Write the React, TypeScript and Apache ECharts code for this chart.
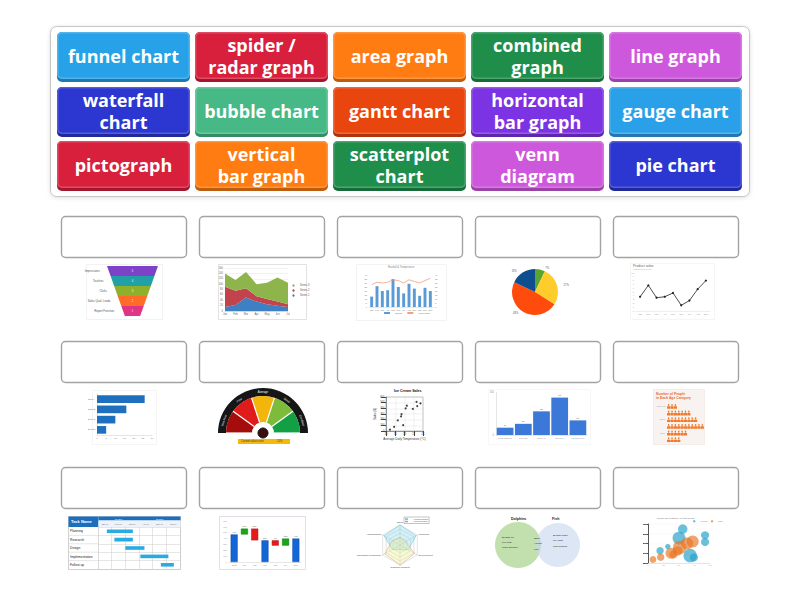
import React, { useEffect, useRef } from "react";
import * as echarts from "echarts";

// ---------------- Board (buttons) ----------------
const buttonTexts: string[] = [
  "funnel chart", "spider /\nradar graph", "area graph", "combined\ngraph", "line graph",
  "waterfall\nchart", "bubble chart", "gantt chart", "horizontal\nbar graph", "gauge chart",
  "pictograph", "vertical\nbar graph", "scatterplot\nchart", "venn\ndiagram", "pie chart",
];
const buttonColors: string[] = [
  "#27a1e8", "#d81f3c", "#ff7c12", "#1f8e4a", "#cd58dc",
  "#2b37d0", "#46b986", "#e9450f", "#7c33e4", "#2aa0e8",
  "#d81f3c", "#ff7c12", "#1f8e4a", "#cd58dc", "#2b37d0",
];

// ---------------- Thumbnail data ----------------
const funnelNames = ["Impressions", "Touches", "Clicks", "Sales Qual. Leads", "Report Function"];
const funnelValues = [100, 80, 60, 40, 20];
const funnelColors = ["#7d42c8", "#21a0a8", "#8fb02b", "#ff6b29", "#df3584"];

const areaMonths = ["Jan", "Feb", "Mar", "Apr", "May", "Jun", "Jul"];
const areaSer1 = [15, 22, 50, 35, 25, 20, 15];
const areaSer2 = [75, 53, 35, 20, 20, 15, 10];
const areaSer3 = [50, 40, 60, 45, 60, 90, 80];

const comboMonths = ["Jan", "Feb", "Mar", "Apr", "May", "Jun", "Jul", "Aug", "Sep", "Oct", "Nov", "Dec"];
const comboBars = [13, 26, 20, 21, 35, 25, 17, 29, 23, 14, 24, 20];
const comboLine = [28, 31, 30, 31, 34, 33, 30, 34, 32, 30, 33, 36];

const pieNames = ["Green", "Yellow", "Red", "Blue"];
const pieValues = [7, 27, 48, 18];
const pieColors = ["#5ba52e", "#ffcd2b", "#ff4b0b", "#0e4e8e"];

const lineCats = ["Jan", "Feb", "Mar", "Apr", "May", "Jun", "Jul", "Aug", "Sep"];
const lineValues = [3.75, 6.75, 3.5, 3.75, 4.75, 1.5, 2.75, 5.75, 8];

const hbarCats = ["Item D", "Item C", "Item B", "Item A"];
const hbarValues = [5, 10, 16, 26];

const gaugeLabels = ["Very Poor", "Poor", "Average", "Good", "Excellent"];
const gaugeValue = 15;

const scatterPoints: number[][] = [
  [11.7, 23], [13.5, 74], [15.1, 189], [16.5, 257], [16.7, 297], [17.4, 103],
  [18.5, 400], [19.0, 446], [21.6, 389], [23.2, 514], [23.5, 440], [24.9, 486],
];

const vbarCats = ["Less than 18", "18 to 29", "30 to 49", "50 to 64", "65 and over"];
const vbarValues = [17, 26, 55, 87, 34];

const pictoCats = ["Under 18", "18-24", "25-34", "35-44", "45-54", "55+"];
const pictoValues = [2, 6, 8, 10, 5, 3];

const ganttTasks = ["Planning", "Research", "Design", "Implementation", "Follow up"];
const ganttStart = [0.65, 1.2, 2.0, 3.1, 4.6];
const ganttDuration = [1.9, 1.35, 1.4, 2.05, 0.95];
const ganttMonths = ["Jan 09", "Feb 09", "Mar 09", "Apr 09", "May 09", "Jun 09"];
const ganttQuarters = ["Q1 2009", "Q2 2009"];

const wfCats = ["Start", "Q1", "Q2", "Mid", "Q3", "Q4", "End"];
const wfValues = [470, 100, -200, 370, -90, 120, 400];
const wfIsTotal = [true, false, false, true, false, false, true];

const radarIndicators = ["Sales", "Administration", "Information Technology", "Customer Support", "Development", "Marketing"];
const radarBudget = [5, 4.6, 2.2, 1.2, 2.4, 4.6];
const radarSpending = [1.8, 2.2, 4.4, 5, 4.2, 1.6];

const vennCenters: number[][] = [[28, 50], [68, 50]];
const vennTitles = ["Dolphins", "Fish"];
const vennLeft = ["Breathe air", "Live birth", "Warm blooded"];
const vennMid = ["Swim", "Aquatic", "Fins"];
const vennRight = ["Breathe water", "Lay eggs", "Cold blooded"];

const bubbleFemale: number[][] = [
  [56, 87, 7], [50, 64, 9.5], [19.5, 31.5, 5.5], [32, 42, 4], [68, 19, 10], [74, 14, 6], [92, 71, 6], [92, 54, 6],
];
const bubbleMale: number[][] = [
  [8, 9, 5], [20.5, 15, 5.5], [37, 25, 8], [51, 40, 10], [63, 50, 9], [72, 55, 9], [48, 31, 7], [41, 22, 6],
];

// ---------------- helpers ----------------
const FF = "Liberation Sans";
function mix(hex: string, target: number, t: number) {
  const n = parseInt(hex.slice(1), 16);
  const r = (n >> 16) & 255, g = (n >> 8) & 255, b = n & 255;
  const f = (c: number) => Math.round(c + (target - c) * t);
  return `rgb(${f(r)},${f(g)},${f(b)})`;
}
const lab = (size: number, color = "#777", extra: any = {}) => ({ fontSize: size, color, fontFamily: FF, ...extra });

function buildOption(): any {
  const graphics: any[] = [];
  // panel
  graphics.push({
    type: "rect", z: 0,
    shape: { x: 50.5, y: 26.5, width: 699, height: 170, r: 6 },
    style: { fill: "#fff", stroke: "#c6c6c6", lineWidth: 1, shadowBlur: 4, shadowColor: "rgba(0,0,0,0.12)", shadowOffsetY: 1 },
  });
  const BX = [57, 195, 333, 471, 609];
  const BY = [32, 87, 141];
  buttonTexts.forEach((t, i) => {
    const c = buttonColors[i];
    const x = BX[i % 5], y = BY[Math.floor(i / 5)];
    graphics.push({ type: "rect", z: 1, shape: { x, y, width: 133, height: 50, r: 5 }, style: { fill: mix(c, 0, 0.25) } });
    graphics.push({ type: "rect", z: 1, shape: { x, y, width: 133, height: 47, r: 5 }, style: { fill: mix(c, 255, 0.2) } });
    graphics.push({ type: "rect", z: 1, shape: { x: x + 1.5, y: y + 1.5, width: 130, height: 44, r: 4 }, style: { fill: c } });
    graphics.push({
      type: "text", z: 2,
      style: {
        text: t, x: x + 66.5, y: y + 23.5, align: "center", verticalAlign: "middle",
        fill: "#fff", fontSize: 18, fontWeight: "bold", fontFamily: "Open Sans", lineHeight: 22,
      },
    });
  });
  // answer boxes
  const OX = [61, 199, 337, 475, 613];
  const OY = [216, 341, 467];
  OY.forEach((y) => OX.forEach((x) => {
    graphics.push({ type: "rect", z: 1, shape: { x: x + 0.5, y: y + 0.5, width: 125, height: 41, r: 4 }, style: { fill: "#fff", stroke: "#a3a3a3", lineWidth: 1.4 } });
  }));
  // thumbnail frames / backgrounds
  const frame = (x: number, y: number, w: number, h: number, stroke: string, fill = "#fff") =>
    graphics.push({ type: "rect", z: 0, shape: { x: x + 0.5, y: y + 0.5, width: w, height: h }, style: { fill, stroke, lineWidth: 0.7 } });
  frame(86, 264, 76, 55, "#ececec");
  frame(218, 264, 88, 55, "#d6d6d6");
  frame(356, 264, 90, 56, "#eeeeee");
  frame(630, 263, 84, 56, "#f0f0f0");
  frame(92, 390, 64, 54, "#f0f0f0");
  frame(653, 389, 51, 55, "#f0e6e0", "#f8f3f0");
  frame(488, 389, 102, 55, "#f3f3f3");
  frame(68, 516, 112, 53, "#bbbbbb");
  frame(219, 516, 86, 53, "#d9cfdc");
  // gantt header & task column lines
  graphics.push({ type: "rect", z: 0, shape: { x: 68.5, y: 516.5, width: 30, height: 10.5 }, style: { fill: "#1c6fbd" } });
  graphics.push({ type: "rect", z: 0, shape: { x: 98.5, y: 516.5, width: 82, height: 4 }, style: { fill: "#1c6fbd" } });
  graphics.push({ type: "rect", z: 0, shape: { x: 98.5, y: 520.5, width: 82, height: 6.5 }, style: { fill: "#eef3f9" } });
  graphics.push({ type: "text", z: 3, style: { text: "Task Name", x: 71, y: 521.8, verticalAlign: "middle", fill: "#fff", fontSize: 4, fontWeight: "bold", fontFamily: FF } });
  for (let k = 1; k < 5; k++) {
    const yy = 527 + (42 / 5) * k;
    graphics.push({ type: "line", z: 0, shape: { x1: 68.5, y1: yy, x2: 98, y2: yy }, style: { stroke: "#cccccc", lineWidth: 0.5 } });
  }
  // gauge caption bar
  graphics.push({ type: "rect", z: 0, shape: { x: 238, y: 439, width: 52, height: 5 }, style: { fill: "#f5b90c" } });
  graphics.push({ type: "text", z: 3, style: { text: "Current value score", x: 241, y: 441.6, verticalAlign: "middle", fill: "#333", fontSize: 2.6, fontFamily: FF } });
  graphics.push({ type: "text", z: 3, style: { text: "15%", x: 277, y: 441.6, verticalAlign: "middle", fill: "#333", fontSize: 2.6, fontFamily: FF } });
  // venn texts
  const vt = (text: string, x: number, y: number, size = 2.4, bold = false) =>
    graphics.push({ type: "text", z: 5, style: { text, x, y, verticalAlign: "middle", fill: "#222", fontSize: size, fontWeight: bold ? "bold" : "normal", fontFamily: FF } });
  vt(vennTitles[0], 511, 518.5, 3.6, true);
  vt(vennTitles[1], 552, 518.5, 3.6, true);
  vennLeft.forEach((t, i) => vt(t, 502, 537 + i * 5));
  vennMid.forEach((t, i) => vt(t, 534, 538 + i * 5.5));
  vennRight.forEach((t, i) => vt(t, 553, 535 + i * 5.5));

  // waterfall helper arrays
  const wfBase: number[] = [];
  const wfBars: any[] = [];
  let running = 0;
  wfValues.forEach((v, i) => {
    let base = 0, h = 0, color = "#1366d6", border = "#0d4ea8";
    if (wfIsTotal[i]) { base = 0; h = v; running = v; }
    else if (v >= 0) { base = running; h = v; running += v; color = "#17a717"; border = "#0b7a0b"; }
    else { running += v; base = running; h = -v; color = "#e61c1c"; border = "#b30f0f"; }
    wfBase.push(base);
    wfBars.push({ value: h, itemStyle: { color, borderColor: border, borderWidth: 0.5 }, label: { formatter: String(Math.abs(v)) } });
  });

  const grids = [
    { left: 225, top: 268, width: 63, height: 43 },   // 0 area
    { left: 369, top: 275, width: 64, height: 32 },   // 1 combined
    { left: 636, top: 273, width: 74, height: 38 },   // 2 line
    { left: 97, top: 394, width: 55, height: 41, show: true, borderColor: "#dde3ea", borderWidth: 0.5 }, // 3 hbar
    { left: 386, top: 397, width: 37, height: 34, show: true, borderColor: "#888", borderWidth: 0.5 },  // 4 scatter
    { left: 496, top: 392, width: 91, height: 43 },   // 5 vbar
    { left: 667, top: 403, width: 37, height: 40 },   // 6 picto
    { left: 98, top: 527, width: 82, height: 42 },    // 7 gantt
    { left: 229, top: 521, width: 72, height: 41 },   // 8 waterfall
    { left: 490, top: 520, width: 100, height: 50 },  // 9 venn
    { left: 648, top: 524, width: 62, height: 39 },   // 10 bubble
  ];
  const noTick = { show: false };
  const thinLine = (c = "#bbb") => ({ lineStyle: { color: c, width: 0.5 } });

  const xAxis: any[] = [
    { type: "category", gridIndex: 0, data: areaMonths, boundaryGap: false, axisLabel: lab(2.6, "#666", { margin: 2 }), axisTick: noTick, axisLine: thinLine() },
    { type: "category", gridIndex: 1, data: comboMonths, axisLabel: lab(2.2, "#777", { margin: 2, interval: 0 }), axisTick: noTick, axisLine: thinLine("#ccc") },
    { type: "category", gridIndex: 2, data: lineCats, axisLabel: lab(2.4, "#999", { margin: 2, interval: 0 }), axisTick: noTick, axisLine: thinLine("#ddd") },
    { type: "value", gridIndex: 3, min: 0, max: 30, interval: 5, axisLabel: lab(2.5, "#888", { margin: 2 }), splitLine: { show: false }, axisLine: { show: true, ...thinLine("#ccc") } },
    { type: "value", gridIndex: 4, min: 10, max: 26, interval: 4, axisLabel: lab(2.6, "#444", { margin: 1.5 }), splitLine: { lineStyle: { color: "#d8d8d8", width: 0.4 } }, axisLine: thinLine("#444"),
      name: "Average Daily Temperature (°C)", nameLocation: "middle", nameGap: 6.5, nameTextStyle: lab(3, "#333") },
    { type: "category", gridIndex: 5, data: vbarCats, axisLabel: lab(2.4, "#888", { margin: 2, interval: 0 }), axisTick: noTick, axisLine: thinLine("#ccc") },
    { type: "value", gridIndex: 6, min: 0, max: 10, show: false },
    { type: "value", gridIndex: 7, min: 0, max: 6, interval: 1, axisLabel: { show: false }, axisLine: { show: false }, axisTick: noTick, splitLine: { lineStyle: { color: "#cccccc", width: 0.5 } } },
    { type: "category", gridIndex: 7, position: "top", data: ganttMonths, z: 6, axisLabel: lab(2.2, "#666", { margin: 1.5 }), axisLine: { show: false }, axisTick: noTick },
    { type: "category", gridIndex: 7, position: "top", offset: 6.5, data: ganttQuarters, z: 6, axisLabel: lab(2, "#fff", { margin: 0.6 }), axisLine: { show: false }, axisTick: noTick },
    { type: "category", gridIndex: 8, data: wfCats, axisLabel: lab(2.3, "#8a8ab0", { margin: 2, interval: 0 }), axisTick: noTick, axisLine: thinLine("#ccc") },
    { type: "value", gridIndex: 9, min: 0, max: 100, show: false },
    { type: "value", gridIndex: 10, min: 0, max: 100, interval: 25, axisLabel: lab(2.2, "#aaa", { margin: 1.5 }), splitLine: { show: false }, axisLine: thinLine("#ccc"), axisTick: noTick },
  ];
  const yAxis: any[] = [
    { type: "value", gridIndex: 0, min: 0, max: 160, interval: 20, axisLabel: lab(2.6, "#666", { margin: 2 }), splitLine: { lineStyle: { color: "#e4e4e4", width: 0.5 } } },
    { type: "value", gridIndex: 1, min: 0, max: 40, interval: 5, axisLabel: lab(2.2, "#777", { margin: 2 }), splitLine: { show: false } },
    { type: "value", gridIndex: 1, min: 0, max: 40, interval: 5, position: "right", axisLabel: lab(2.2, "#777", { margin: 2 }), splitLine: { show: false } },
    { type: "value", gridIndex: 2, min: 0, max: 10, interval: 1, axisLabel: lab(2.4, "#aaa", { margin: 2 }), splitLine: { show: false }, axisLine: { show: false } },
    { type: "category", gridIndex: 3, data: hbarCats, axisLabel: lab(2.5, "#666", { margin: 2 }), axisTick: noTick, axisLine: thinLine("#ccc") },
    { type: "value", gridIndex: 4, min: 0, max: 600, interval: 100, axisLabel: lab(2.6, "#444", { margin: 1.5 }), splitLine: { lineStyle: { color: "#d8d8d8", width: 0.4 } }, axisLine: { show: true, ...thinLine("#444") },
      name: "Sales ($)", nameLocation: "middle", nameGap: 9, nameTextStyle: lab(3, "#333") },
    { type: "value", gridIndex: 5, min: 0, max: 100, interval: 100, axisLabel: lab(2.6, "#999", { margin: 2 }), splitLine: { show: false }, axisLine: { show: true, ...thinLine("#ccc") } },
    { type: "category", gridIndex: 6, data: pictoCats, inverse: true, axisLabel: lab(2.2, "#999", { margin: 1.5 }), axisTick: noTick, axisLine: { show: false } },
    { type: "category", gridIndex: 7, data: ganttTasks, inverse: true, axisLabel: lab(3.3, "#222", { margin: 28, align: "left" }), axisTick: noTick, axisLine: thinLine("#cccccc"), splitLine: { show: true, lineStyle: { color: "#cccccc", width: 0.5 } } },
    { type: "value", gridIndex: 8, min: 0, max: 700, interval: 100, axisLabel: lab(2.3, "#999", { margin: 2 }), splitLine: { show: false } },
    { type: "value", gridIndex: 9, min: 0, max: 100, show: false },
    { type: "value", gridIndex: 10, min: 0, max: 100, interval: 25, axisLabel: lab(2.2, "#aaa", { margin: 1.5 }), splitLine: { lineStyle: { color: "#eeeeee", width: 0.4 } } },
  ];

  const titles = [
    { text: "Rainfall & Temperature", left: 388, top: 266, padding: 0, textStyle: lab(2.6, "#888", { fontWeight: "normal" }) },
    { text: "Product sales", subtext: "Units sold per month", left: 633, top: 264, padding: 0, itemGap: 1, textStyle: lab(3.4, "#666", { fontWeight: "normal" }), subtextStyle: lab(2, "#aaa") },
    { text: "Ice Cream Sales", left: 394, top: 389, padding: 0, textStyle: lab(3.6, "#111", { fontWeight: "bold" }) },
    { text: "Number of People\nin Each Age Category", left: 656, top: 392, padding: 0, textStyle: lab(3.4, "#e8692a", { fontWeight: "bold", lineHeight: 4 }) },
    { text: "Income and Health by Age and Gender", left: 657, top: 517, padding: 0, textStyle: lab(2.2, "#666", { fontWeight: "normal" }) },
  ];
  const legends = [
    { data: ["Series 3", "Series 2", "Series 1"], orient: "vertical", left: 292, top: 284, padding: 0, itemWidth: 3, itemHeight: 3, itemGap: 2, textStyle: lab(2.6, "#555") },
    { data: ["Rainfall", "Temperature"], left: 384, top: 312, padding: 0, itemWidth: 6, itemHeight: 2, itemGap: 4, textStyle: lab(2.2, "#777") },
    { data: ["Allocated Budget", "Actual Spending"], orient: "vertical", left: 404, top: 517, padding: 1, borderColor: "#888", borderWidth: 0.5, itemWidth: 3, itemHeight: 1.5, itemGap: 0.5, textStyle: lab(2, "#555") },
    { data: ["Female", "Male"], left: 693, top: 520, padding: 0, icon: "circle", itemWidth: 2.5, itemHeight: 2.5, itemGap: 3, textStyle: lab(2.2, "#777") },
  ];

  const series: any[] = [
    // funnel
    {
      type: "funnel", name: "funnel", left: 107, top: 266, width: 51, height: 50, min: 0, max: 100, minSize: "30%", maxSize: "100%", sort: "descending", gap: 0,
      label: { show: true, position: "inside", formatter: (p: any) => String(5 - p.dataIndex), ...lab(2.6, "#fff") },
      itemStyle: { borderWidth: 0 },
      data: funnelNames.map((n, i) => ({ name: n, value: funnelValues[i], itemStyle: { color: funnelColors[i] } })),
    },
    {
      type: "funnel", name: "funnelLabels", left: 107, top: 266, width: 51, height: 50, min: 0, max: 100, minSize: "30%", maxSize: "100%", sort: "descending", gap: 0, z: 1,
      label: { show: true, position: "left", ...lab(2.8, "#555") }, labelLine: { show: false, length: 4 },
      itemStyle: { color: "rgba(0,0,0,0)", borderWidth: 0 },
      data: funnelNames.map((n, i) => ({ name: n, value: funnelValues[i] })),
    },
    // area
    { type: "line", name: "Series 1", xAxisIndex: 0, yAxisIndex: 0, stack: "area", data: areaSer1, symbol: "none", lineStyle: { width: 0 }, areaStyle: { color: "#3f7fc4", opacity: 1 }, itemStyle: { color: "#3f7fc4" } },
    { type: "line", name: "Series 2", xAxisIndex: 0, yAxisIndex: 0, stack: "area", data: areaSer2, symbol: "none", lineStyle: { width: 0 }, areaStyle: { color: "#c2434b", opacity: 1 }, itemStyle: { color: "#c2434b" } },
    { type: "line", name: "Series 3", xAxisIndex: 0, yAxisIndex: 0, stack: "area", data: areaSer3, symbol: "none", lineStyle: { width: 0 }, areaStyle: { color: "#8db54c", opacity: 1 }, itemStyle: { color: "#8db54c" } },
    // combined
    { type: "bar", name: "Rainfall", xAxisIndex: 1, yAxisIndex: 1, data: comboBars, barWidth: "55%", itemStyle: { color: "#5b9bd5" } },
    { type: "line", name: "Temperature", xAxisIndex: 1, yAxisIndex: 2, data: comboLine, symbol: "none", lineStyle: { color: "#f2a07a", width: 0.8 }, itemStyle: { color: "#f2a07a" } },
    // pie
    {
      type: "pie", name: "pie", center: [535, 292], radius: 23, startAngle: 90, clockwise: true,
      label: { show: true, position: "outside", formatter: "{c}%", ...lab(2.6, "#555") }, labelLine: { show: false, length: 1.5, length2: 0 },
      data: pieNames.map((n, i) => ({ name: n, value: pieValues[i], itemStyle: { color: pieColors[i] } })),
    },
    // line
    { type: "line", name: "sales", xAxisIndex: 2, yAxisIndex: 3, data: lineValues, symbol: "circle", symbolSize: 2.2, lineStyle: { color: "#222", width: 0.8 }, itemStyle: { color: "#222" } },
    // horizontal bar
    { type: "bar", name: "hbar", xAxisIndex: 3, yAxisIndex: 4, data: hbarValues, barWidth: "75%", itemStyle: { color: "#1f6fbf" } },
    // gauge (black ring with labels)
    {
      type: "gauge", name: "gaugeRing", center: [263, 433], radius: 45, startAngle: 180, endAngle: 0, min: 0, max: 10, splitNumber: 10,
      axisLine: { lineStyle: { width: 8, color: [[1, "#161616"]] } },
      axisTick: { show: false }, splitLine: { show: false, length: 0, distance: 0 },
      axisLabel: { show: true, distance: 4, rotate: "tangential", color: "#fff", fontSize: 2.8, fontFamily: FF,
        formatter: (v: number) => { const k = Math.round(v); return k % 2 === 1 ? gaugeLabels[(k - 1) / 2] : ""; } },
      pointer: { show: false }, anchor: { show: false }, title: { show: false }, detail: { show: false }, data: [{ value: 0 }],
    },
    {
      type: "gauge", name: "gaugeBands", center: [263, 433], radius: 37, startAngle: 180, endAngle: 0, min: 0, max: 100, splitNumber: 5,
      axisLine: { lineStyle: { width: 26, color: [[0.2, "#a50d0d"], [0.4, "#e01b1b"], [0.6, "#f2b50c"], [0.8, "#7dbb3b"], [1, "#13a045"]] } },
      axisTick: { show: false }, splitLine: { show: true, length: 26, distance: -26, lineStyle: { color: "#fff", width: 1.2 } },
      axisLabel: { show: false },
      pointer: { show: false },
      anchor: { show: true, showAbove: true, size: 10, itemStyle: { color: "#3b0d0d", borderColor: "#111", borderWidth: 1 } },
      title: { show: false }, detail: { show: false }, data: [{ value: gaugeValue }],
    },
    // scatter
    { type: "scatter", name: "icecream", xAxisIndex: 4, yAxisIndex: 5, data: scatterPoints, symbolSize: 2, itemStyle: { color: "#111" } },
    // vertical bar
    { type: "bar", name: "vbar", xAxisIndex: 5, yAxisIndex: 6, data: vbarValues, barCategoryGap: "8%", itemStyle: { color: "#3b78d8" }, label: { show: true, position: "top", distance: 1, ...lab(2.4, "#555") } },
    // pictograph
    {
      type: "pictorialBar", name: "picto", xAxisIndex: 6, yAxisIndex: 7, data: pictoValues,
      symbol: "path://M10 0a5 5 0 1 1 0 10a5 5 0 1 1 0-10zM2 11h16c1.5 0 2 1 2 2.5V22H0v-8.5C0 12 0.5 11 2 11z",
      symbolRepeat: true, symbolSize: [3.3, 4.6], symbolMargin: 0.2, itemStyle: { color: "#ef7a2c" },
    },
    // gantt
    { type: "bar", name: "ganttBase", xAxisIndex: 7, yAxisIndex: 8, stack: "gantt", data: ganttStart, barWidth: 3.6, itemStyle: { color: "rgba(0,0,0,0)" } },
    { type: "bar", name: "ganttTask", xAxisIndex: 7, yAxisIndex: 8, stack: "gantt", data: ganttDuration, barWidth: 3.6, itemStyle: { color: "#29abe2" } },
    // waterfall
    { type: "bar", name: "wfBase", xAxisIndex: 10, yAxisIndex: 9, stack: "wf", data: wfBase, barWidth: 7, itemStyle: { color: "rgba(0,0,0,0)" } },
    { type: "bar", name: "wfValue", xAxisIndex: 10, yAxisIndex: 9, stack: "wf", data: wfBars, barWidth: 7, label: { show: true, position: "top", distance: 1, ...lab(2.3, "#666") } },
    // radar
    {
      type: "radar", name: "radar", radarIndex: 0, symbol: "none",
      data: [
        { name: "Allocated Budget", value: radarBudget, areaStyle: { color: "rgba(120,210,232,0.45)" }, lineStyle: { color: "#5bb8d8", width: 0.5 }, itemStyle: { color: "#5bb8d8" } },
        { name: "Actual Spending", value: radarSpending, areaStyle: { color: "rgba(232,238,120,0.45)" }, lineStyle: { color: "#d98c9a", width: 0.5 }, itemStyle: { color: "#d98c9a" } },
      ],
    },
    // venn
    {
      type: "scatter", name: "venn", xAxisIndex: 11, yAxisIndex: 10, z: 1,
      data: [
        { value: vennCenters[0], symbolSize: 46, itemStyle: { color: "rgba(171,210,143,0.9)" } },
        { value: vennCenters[1], symbolSize: 44, itemStyle: { color: "rgba(199,215,239,0.78)" } },
      ],
    },
    // bubble
    { type: "scatter", name: "Female", xAxisIndex: 12, yAxisIndex: 11, data: bubbleFemale, symbolSize: (d: number[]) => d[2] * 1.35, itemStyle: { color: "rgba(38,160,200,0.85)" } },
    { type: "scatter", name: "Male", xAxisIndex: 12, yAxisIndex: 11, data: bubbleMale, symbolSize: (d: number[]) => d[2] * 1.35, itemStyle: { color: "rgba(232,120,40,0.85)" } },
  ];

  return {
    animation: false,
    backgroundColor: "#ffffff",
    textStyle: { fontFamily: FF },
    title: titles,
    legend: legends,
    grid: grids,
    xAxis,
    yAxis,
    radar: {
      center: [400, 545], radius: 20, startAngle: 90, splitNumber: 5, nameGap: 1.5,
      indicator: radarIndicators.map((n) => ({ name: n, max: 5 })),
      axisName: lab(2.4, "#444"),
      splitLine: { lineStyle: { color: "#bbbbbb", width: 0.4 } },
      splitArea: { show: false },
      axisLine: { lineStyle: { color: "#bbbbbb", width: 0.4 } },
    },
    graphic: { elements: graphics },
    series,
  };
}

export default function App() {
  const ref = useRef<HTMLDivElement>(null);
  useEffect(() => {
    if (!ref.current) return;
    const chart = echarts.init(ref.current, null, { renderer: "svg" });
    chart.setOption(buildOption());
    return () => chart.dispose();
  }, []);
  return <div ref={ref} style={{ position: "absolute", left: 0, top: 0, width: 800, height: 600, background: "#fff" }} />;
}
